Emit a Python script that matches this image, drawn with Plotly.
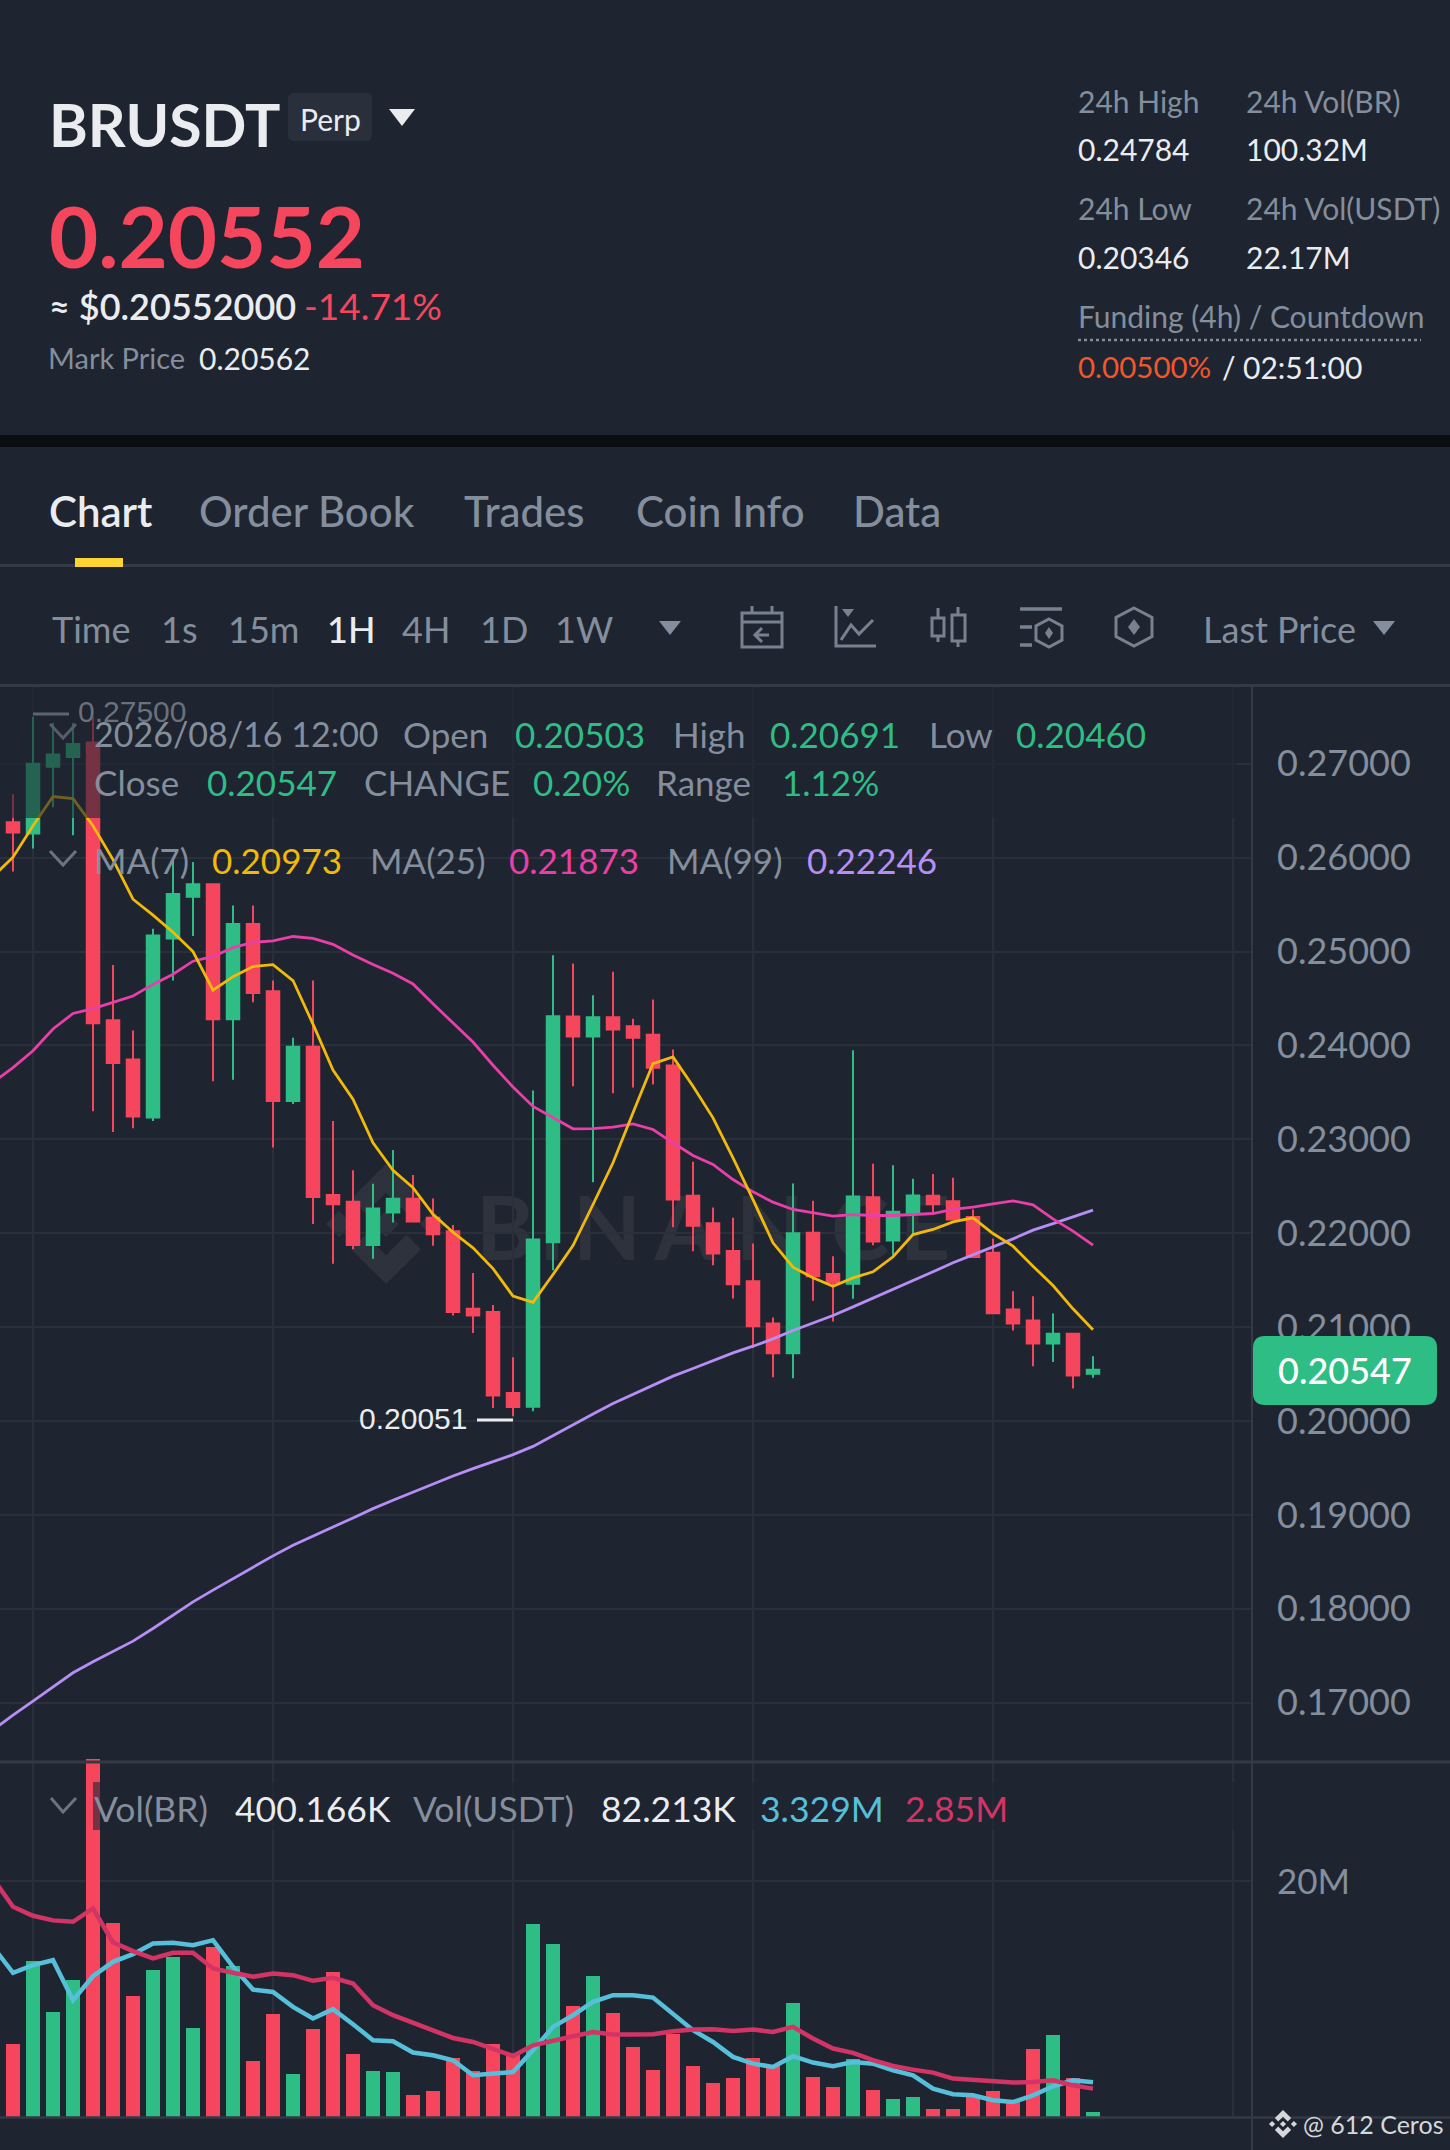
import plotly.graph_objects as go

W, H = 1450, 2150
BG = "#1e2530"
GRID = "#2a303a"
LINE = "#333a46"
GRAY = "#848e9c"
WHITE = "#eaecef"
GREEN = "#2ebd85"
RED = "#f6465d"
MA7_C = "#f0b90b"
MA25_C = "#e83fa8"
MA99_C = "#b78ef5"
VOL_A_C = "#56bfd9"
VOL_B_C = "#d23565"
FONT = "Lato"

candle_x = list(range(55))
line_x = list(range(-1, 55))

opens = [.26376, .26258, .26969, .27072, .27227, .24268, .23851, .23232, .25139, .25582, .25716,
         .24278, .25294, .24577, .23407, .23985, .22407, .22335, .21876, .22222, .22366, .22165,
         .2202, .21196, .2116, .20299, .20151, .21905, .24308, .24095, .24301, .24205, .24113,
         .23786, .22398, .22107, .21812, .21489, .21038, .20723, .22004, .21567, .21461, .22384,
         .21923, .2221, .22398, .22341, .22174, .21791, .21188, .21071, .20826, .20929, .20503]
highs = [.26675, .275, .27433, .27433, .275, .24856, .2416, .25242, .2599, .25954, .25716,
         .2549, .2549, .24691, .24082, .24691, .23196, .2267, .22526, .22887, .22619, .22371,
         .22088, .21577, .21237, .2068, .2352, .24961, .24872, .24535, .24784, .24283, .24489,
         .23957, .2276, .22274, .22164, .2189, .21102, .22529, .22345, .21756, .23949, .22739,
         .22725, .22579, .22632, .2259, .22253, .2194, .21383, .2133, .21145, .20929, .20691]
lows = [.25851, .26098, .26536, .26237, .23299, .23077, .23119, .23196, .24691, .25165, .23619,
        .23634, .24459, .22912, .23376, .22098, .21675, .2183, .21727, .22113, .22113, .21866,
        .21124, .20938, .20139, .20051, .20105, .21607, .23566, .22544, .23492, .23552, .23584,
        .22064, .21809, .2166, .21305, .20779, .20467, .20456, .2128, .2106, .21301, .21873,
        .2177, .21993, .22217, .22139, .21748, .21149, .20964, .20584, .2063, .20346, .2046]
closes = [.26268, .27, .27098, .27211, .24237, .23814, .23242, .2517, .25613, .25716, .24278,
          .25294, .24557, .23407, .23985, .22387, .22309, .21876, .22263, .22366, .22124, .2199,
          .2116, .21124, .20273, .2015, .21933, .24312, .24095, .24301, .2417, .24081, .23761,
          .22359, .22079, .21784, .21457, .2101, .20723, .22, .21543, .21472, .22391, .21912,
          .22228, .22402, .22309, .22146, .21748, .21149, .21038, .20826, .20929, .20485, .20547]

ma7 = [.25799, .26005, .2634, .2665, .26629, .2634, .25979, .25557, .25387, .25206, .25, .24588,
       .24732, .2484, .24861, .24691, .24227, .23737, .23428, .22964, .2267, .22485, .22201, .2201,
       .21845, .21624, .2133, .21263, .2156, .21869, .22306, .2275, .23282, .23807, .23878, .23566,
       .23229, .22803, .22359, .21898, .21638, .21525, .21436, .21525, .21589, .21749, .21986,
       .2204, .22121, .22164, .21997, .21862, .21649, .21443, .21195, .20973]
ma25 = [.23608, .23763, .23943, .24175, .2434, .24392, .24459, .24526, .2465, .24758, .24897, .24948,
        .25041, .25098, .25113, .2516, .25139, .25077, .24964, .24861, .24768, .24655, .24443, .24237,
        .24036, .23789, .23557, .2335, .23229, .23112, .23115, .2313, .23165, .23105, .22963, .22828,
        .22732, .22572, .22441, .22331, .22253, .22217, .22182, .22199, .22189, .22189, .22199,
        .2221, .22253, .22277, .22313, .22345, .22302, .22153, .22022, .21873]
ma99 = [.16709, .16869, .17018, .1717, .17319, .17436, .1755, .17656, .17791, .17933, .18074, .18199,
        .18323, .18447, .18564, .18677, .18777, .18872, .18968, .19067, .19156, .19245, .19333, .19415,
        .19493, .19571, .19642, .1973, .19848, .19965, .20075, .20187, .20285, .20378, .20478, .20559,
        .20645, .20726, .20797, .20875, .20964, .21046, .21124, .21216, .21308, .214, .21496, .21589,
        .21685, .21773, .21855, .2194, .22033, .22103, .22174, .22246]

volume = [6.23, 13.23, 8.92, 11.67, 30.37, 16.46, 10.23, 12.49, 13.6, 7.56, 14.45, 12.8, 4.76, 8.78,
          3.68, 7.48, 12.32, 5.33, 3.91, 3.8, 1.9, 2.24, 5.04, 3.9, 6.18, 5.24, 16.37, 14.67, 9.41,
          11.98, 8.81, 5.92, 3.99, 7.08, 4.33, 2.92, 3.29, 5.04, 4.39, 9.66, 3.37, 2.52, 4.9, 2.32,
          1.56, 1.67, .65, .65, 1.7, 2.18, 1.42, 5.75, 6.94, 3.34, .400166]
vol_ma_a = [14.45, 12.24, 12.89, 13.31, 9.92, 11.95, 13.17, 13.82, 14.73, 14.79, 14.59, 15.01, 12.75,
            10.82, 10.62, 9.35, 8.36, 9.15, 7.88, 6.52, 6.43, 5.47, 5.24, 4.82, 3.54, 3.68, 3.82, 5.67,
            7.65, 8.64, 9.77, 10.34, 10.34, 10.14, 8.78, 7.37, 6.37, 5.1, 4.53, 4.25, 5.16, 4.62, 4.31,
            4.67, 4.53, 3.97, 3.54, 2.41, 1.93, 1.84, 1.42, 1.27, 1.84, 2.61, 3.12, 2.95]
vol_ma_b = [20.25, 17.85, 17.08, 16.69, 16.57, 17.71, 14.82, 14.08, 13.46, 13.94, 13.94, 12.61, 12.24,
            11.9, 12.18, 12.04, 11.56, 11.81, 11.33, 9.49, 8.64, 8.02, 7.31, 6.71, 6.37, 5.75, 5.18, 6.09,
            6.43, 6.86, 7.22, 7.0, 7.0, 7.03, 7.28, 7.42, 7.45, 7.31, 7.42, 7.22, 7.65, 6.66, 5.81, 5.44,
            4.82, 4.33, 4.02, 3.77, 3.26, 3.12, 3.06, 2.92, 2.97, 3.12, 2.69, 2.41]

price_ticks = [.17, .18, .19, .20, .21, .22, .23, .24, .25, .26, .27]
vol_ticks = [20]
vol_tick_labels = ["20M"]


def X(px):
    return px / W


def Y(py):
    return 1 - py / H


def pts(points, close=False):
    s = "M" + " L".join(f"{X(a):.5f},{Y(b):.5f}" for a, b in points)
    return s + (" Z" if close else "")


def round_rect(x0, y0, x1, y1, r):
    parts = [f"M{X(x0 + r):.5f},{Y(y0):.5f}", f"L{X(x1 - r):.5f},{Y(y0):.5f}",
             f"Q{X(x1):.5f},{Y(y0):.5f} {X(x1):.5f},{Y(y0 + r):.5f}", f"L{X(x1):.5f},{Y(y1 - r):.5f}",
             f"Q{X(x1):.5f},{Y(y1):.5f} {X(x1 - r):.5f},{Y(y1):.5f}", f"L{X(x0 + r):.5f},{Y(y1):.5f}",
             f"Q{X(x0):.5f},{Y(y1):.5f} {X(x0):.5f},{Y(y1 - r):.5f}", f"L{X(x0):.5f},{Y(y0 + r):.5f}",
             f"Q{X(x0):.5f},{Y(y0):.5f} {X(x0 + r):.5f},{Y(y0):.5f}", "Z"]
    return " ".join(parts)


annotations = []
shapes = []


def text(s, x, y, size, color=GRAY, weight=400, anchor="left", family=FONT):
    if anchor == "left":
        x -= 2
    annotations.append(dict(text=s, x=X(x), y=Y(y), xref="paper", yref="paper", showarrow=False,
                            xanchor=anchor, yanchor="middle", borderpad=0,
                            font=dict(family=family, size=size, color=color, weight=weight)))


def fill(path, color, layer="above", opacity=1):
    shapes.append(dict(type="path", path=path, xref="paper", yref="paper", fillcolor=color,
                       line=dict(width=0), layer=layer, opacity=opacity))


def stroke(points, color=GRAY, width=2.5, close=False, dash=None, layer="above"):
    shapes.append(dict(type="path", path=pts(points, close), xref="paper", yref="paper",
                       line=dict(color=color, width=width, dash=dash), layer=layer))


def hexagon(cx, cy, w, h):
    return [(cx, cy - h), (cx + w, cy - h / 2), (cx + w, cy + h / 2), (cx, cy + h),
            (cx - w, cy + h / 2), (cx - w, cy - h / 2)]


def diamond(cx, cy, w, h=None):
    h = h or w
    return [(cx, cy - h), (cx + w, cy), (cx, cy + h), (cx - w, cy)]


def logo(cx, cy, r, color, layer):
    top = [(0, -1), (.58, -.42), (.34, -.18), (0, -.52), (-.34, -.18), (-.58, -.42)]
    fill(pts([(cx + a * r, cy + b * r) for a, b in top], True), color, layer)
    fill(pts([(cx + a * r, cy - b * r) for a, b in top], True), color, layer)
    for dx in (-.78, 0, .78):
        fill(pts(diamond(cx + dx * r, cy, .22 * r), True), color, layer)


fig = go.Figure()
fig.add_trace(go.Candlestick(x=candle_x, open=opens, high=highs, low=lows, close=closes, xaxis="x", yaxis="y",
                             increasing=dict(line=dict(color=GREEN, width=2), fillcolor=GREEN),
                             decreasing=dict(line=dict(color=RED, width=2), fillcolor=RED)))
for vals, col in [(ma99, MA99_C), (ma25, MA25_C), (ma7, MA7_C)]:
    fig.add_trace(go.Scatter(x=line_x, y=vals, mode="lines", xaxis="x", yaxis="y",
                             line=dict(color=col, width=2.8)))

vol_colors = [GREEN if c > o else RED for o, c in zip(opens, closes)]
fig.add_trace(go.Bar(x=candle_x, y=volume, width=0.7, marker=dict(color=vol_colors, line=dict(width=0)),
                     xaxis="x2", yaxis="y2"))
for vals, col in [(vol_ma_a, VOL_A_C), (vol_ma_b, VOL_B_C)]:
    fig.add_trace(go.Scatter(x=line_x, y=vals, mode="lines", xaxis="x2", yaxis="y2",
                             line=dict(color=col, width=4.5)))

# header
text("BRUSDT", 50, 124, 59, WHITE, 700)
fill(round_rect(288, 93, 372, 141, 6), "#2a303b")
text("Perp", 330, 119, 30, WHITE, 400, "center")
fill(pts([(389, 109), (415, 109), (402, 126)], True), WHITE)
text("0.20552", 50, 235, 85, RED, 700)
text("≈ $0.20552000", 50, 306, 36, WHITE, 600)
text("-14.71%", 305, 306, 37, RED, 400)
text("Mark Price", 49, 358, 29, GRAY)
text("0.20562", 200, 358, 30, WHITE)

text("24h High", 1079, 101, 30, GRAY)
text("24h Vol(BR)", 1247, 101, 30, GRAY)
text("0.24784", 1079, 149, 30, WHITE)
text("100.32M", 1247, 149, 30, WHITE)
text("24h Low", 1079, 208, 30, GRAY)
text("24h Vol(USDT)", 1247, 208, 30, GRAY)
text("0.20346", 1079, 257, 30, WHITE)
text("22.17M", 1247, 257, 30, WHITE)
text("Funding (4h) / Countdown", 1079, 316, 30, GRAY)
stroke([(1078, 340), (1421, 340)], GRAY, 2.5, dash="dot")
text("0.00500%", 1079, 367, 29.5, "#f0572c")
text("/", 1223, 367, 30, WHITE)
text("02:51:00", 1244, 367, 30, WHITE)
fill(pts([(0, 435), (W, 435), (W, 447), (0, 447)], True), "#0b0e11")

# tabs
text("Chart", 50, 511, 42, WHITE, 600)
text("Order Book", 200, 511, 42, GRAY, 500)
text("Trades", 465, 511, 42, GRAY, 500)
text("Coin Info", 637, 511, 42, GRAY, 500)
text("Data", 854, 511, 42, GRAY, 500)
fill(pts([(0, 564), (W, 564), (W, 567), (0, 567)], True), LINE)
fill(pts([(75, 558), (123, 558), (123, 567), (75, 567)], True), "#fcd535")

# toolbar
for label, x, col in [("Time", 53, GRAY), ("1s", 162, GRAY), ("15m", 229, GRAY), ("1H", 328, WHITE),
                      ("4H", 403, GRAY), ("1D", 481, GRAY), ("1W", 556, GRAY), ("Last Price", 1204, GRAY)]:
    text(label, x, 629, 36, col, 500 if col == WHITE else 400)
fill(pts([(659, 621), (681, 621), (670, 635)], True), GRAY)
fill(pts([(1373, 621), (1395, 621), (1384, 635)], True), GRAY)
ICON = "#78818f"
stroke([(742, 613), (782, 613), (782, 647), (742, 647)], ICON, 3, close=True)
stroke([(742, 622), (782, 622)], ICON, 3)
stroke([(752, 606), (752, 613)], ICON, 3)
stroke([(772, 606), (772, 613)], ICON, 3)
stroke([(769, 635), (755, 635)], ICON, 3)
stroke([(762, 628), (755, 635), (762, 642)], ICON, 3)
stroke([(836, 606), (836, 646), (876, 646)], ICON, 3)
fill(pts([(842, 609), (854, 609), (848, 617)], True), ICON)
stroke([(841, 640), (851, 625), (859, 634), (873, 620)], ICON, 3)
stroke([(932, 618), (944, 618), (944, 636), (932, 636)], ICON, 3, close=True)
stroke([(938, 608), (938, 618)], ICON, 3)
stroke([(938, 636), (938, 642)], ICON, 3)
stroke([(952, 615), (965, 615), (965, 641), (952, 641)], ICON, 3, close=True)
stroke([(958, 607), (958, 615)], ICON, 3)
stroke([(958, 641), (958, 647)], ICON, 3)
stroke([(1020, 609), (1062, 609)], ICON, 3.5)
stroke([(1020, 627), (1032, 627)], ICON, 3.5)
stroke([(1020, 645), (1032, 645)], ICON, 3.5)
stroke(hexagon(1049, 633, 13, 14), ICON, 3, close=True)
fill(pts(diamond(1049, 633, 4, 6), True), ICON)
stroke(hexagon(1134, 627, 18, 19), ICON, 3, close=True)
fill(pts(diamond(1134, 627, 6, 8), True), ICON)

# watermark
WATER = "#2d323d"
logo(386, 1224, 60, WATER, "below")
for letter, cx in zip("BINANCE", [505, 552, 607, 685, 770, 860, 925]):
    shapes.append(dict(type="rect", xref="paper", yref="paper", x0=X(cx - 40), x1=X(cx + 40), y0=Y(1270), y1=Y(1180),
                       line=dict(width=0), fillcolor="rgba(0,0,0,0)", layer="below",
                       label=dict(text=letter, textposition="middle center",
                                  font=dict(family=FONT, size=88, color=WATER, weight=700))))

# dimming behind the legend rows
fill(pts([(0, 687), (1236, 687), (1236, 818), (0, 818)], True), BG, opacity=0.6)
fill(pts([(93, 1782), (1236, 1782), (1236, 1830), (93, 1830)], True), BG, opacity=0.6)

# legend rows
CHEV = "#6c7480"
stroke([(50, 724), (63, 738), (76, 724)], "#565d69", 3)
stroke([(50, 851), (63, 865), (76, 851)], CHEV, 3)
stroke([(51, 1798), (63, 1812), (76, 1798)], CHEV, 3)
for s, x, c in [("2026/08/16 12:00", 95, GRAY), ("Open", 404, GRAY), ("0.20503", 516, GREEN), ("High", 674, GRAY),
                ("0.20691", 771, GREEN), ("Low", 930, GRAY), ("0.20460", 1017, GREEN)]:
    text(s, x, 734, 35 if s[0] != "2" else 34, c)
for s, x, c in [("Close", 95, GRAY), ("0.20547", 208, GREEN), ("CHANGE", 365, GRAY), ("0.20%", 534, GREEN),
                ("Range", 657, GRAY), ("1.12%", 783, GREEN)]:
    text(s, x, 782, 35, c)
for s, x, c in [("MA(7)", 95, GRAY), ("0.20973", 213, MA7_C), ("MA(25)", 371, GRAY), ("0.21873", 510, MA25_C),
                ("MA(99)", 668, GRAY), ("0.22246", 808, MA99_C)]:
    text(s, x, 860, 35, c)
for s, x, c in [("Vol(BR)", 95, GRAY), ("400.166K", 236, WHITE), ("Vol(USDT)", 414, GRAY), ("82.213K", 602, WHITE),
                ("3.329M", 761, VOL_A_C), ("2.85M", 906, VOL_B_C)]:
    text(s, x, 1808, 35.5, c)

# high / low markers
stroke([(33, 714), (69, 714)], "#5d6470", 3)
text("0.27500", 79, 711, 30, "#6a717d", family="Liberation Sans")
stroke([(477, 1420), (513, 1420)], WHITE, 3)
text("0.20051", 360, 1418, 30, WHITE, family="Liberation Sans")

# panes
stroke([(1252, 687), (1252, H)], LINE, 2)
stroke([(0, 685.5), (W, 685.5)], LINE, 3)
stroke([(0, 1762), (W, 1762)], LINE, 3)
stroke([(0, 2117.5), (W, 2117.5)], LINE, 2.5)

# last price tag
fill(round_rect(1253, 1336, 1437, 1405, 12), GREEN)
text(f"{closes[-1]:.5f}", 1345, 1370, 36, "#ffffff", 500, "center")

# credit
logo(1283, 2124, 14, "#d5d7db", "above")
text("@ 612 Ceros", 1304, 2124, 25, "#d5d7db")

x_common = dict(range=[-0.65, 61.95], domain=[0, 1252 / W], showgrid=True, gridcolor=GRID, gridwidth=2,
                zeroline=False, showticklabels=False, tick0=1, dtick=12, showline=False, ticks="",
                rangeslider=dict(visible=False))
fig.update_layout(
    width=W, height=H, showlegend=False, paper_bgcolor=BG, plot_bgcolor=BG, bargap=0,
    boxgap=0.375, boxgroupgap=0,
    margin=dict(l=0, r=0, t=0, b=0, pad=0), hovermode=False,
    font=dict(family=FONT),
    xaxis=dict(**x_common, anchor="y"),
    xaxis2=dict(**x_common, anchor="y2"),
    yaxis=dict(domain=[(H - 1762) / H, (H - 687) / H], range=[0.16369, 0.27817], side="right", anchor="x",
               tickvals=price_ticks, tickformat=".5f", showgrid=True, gridcolor=GRID, gridwidth=2,
               zeroline=False, ticks="", ticklabelstandoff=24, showline=False,
               tickfont=dict(family=FONT, size=36, color=GRAY)),
    yaxis2=dict(domain=[(H - 2117) / H, (H - 1755) / H], range=[0, 30.73], side="right", anchor="x2",
                tickvals=vol_ticks, ticktext=vol_tick_labels, showgrid=True, gridcolor=GRID, gridwidth=2,
                zeroline=False, ticks="", ticklabelstandoff=24, showline=False,
                tickfont=dict(family=FONT, size=35, color=GRAY)),
    shapes=shapes, annotations=annotations,
)

fig.write_html("out.html", config={"displayModeBar": False},
               post_script="document.body.style.margin='0';document.body.style.overflow='hidden';")
